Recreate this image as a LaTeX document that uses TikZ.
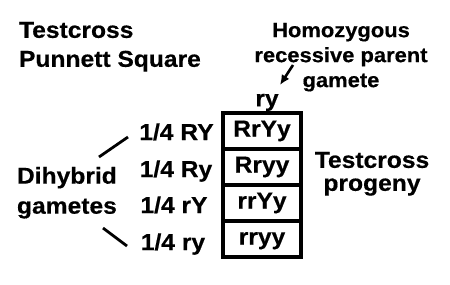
\documentclass[tikz,border=0pt]{standalone}
\usepackage{fontspec}
\setmainfont{Liberation Sans}[FakeStretch=1.07, BoldFeatures={FakeBold=0.5}]
\usetikzlibrary{positioning, arrows.meta}

\begin{document}
\begin{tikzpicture}[x=1pt, y=-1pt,
  every node/.style={inner sep=0pt, outer sep=0pt,
    font=\bfseries\fontsize{23}{29}\selectfont},
  ttl/.style={align=left, anchor=north west},
  ann/.style={align=center, anchor=north},
  gam/.style={anchor=base},
  cell/.style={draw, line width=3.2pt, minimum width=78pt, minimum height=36pt,
    text height=16pt, text depth=5pt},
  link/.style={line width=2.8pt},
  arrow/.style={-{Latex[length=10pt, width=9pt]}, line width=2.6pt}]
\useasboundingbox (0,0) rectangle (450,284);
\node[ttl] (title) at (19,22) {Testcross\\Punnett Square};
\node[ann, font=\bfseries\fontsize{20.5}{25}\selectfont] (homo) at (341,23)
  {Homozygous\\recessive parent\\gamete};
% punnett column
\node[cell] (c1) at (262,131) {RrYy};
\node[cell, below=0pt of c1] (c2) {Rryy};
\node[cell, below=0pt of c2] (c3) {rrYy};
\node[cell, below=0pt of c3] (c4) {rryy};
\node[gam, anchor=south, above=2pt of c1, xshift=5pt] (hdr) {ry};
% gametes
\node[gam] (g1) at (176.5,140) {1/4 RY};
\node[gam] (g2) at (176,177) {1/4 Ry};
\node[gam] (g3) at (174,213) {1/4 rY};
\node[gam] (g4) at (173,250) {1/4 ry};
\node[ttl, font=\bfseries\fontsize{23}{30}\selectfont] (dih) at (17,167)
  {Dihybrid\\gametes};
\node[ann, font=\bfseries\fontsize{23}{23}\selectfont] (prog) at (372,152)
  {Testcross\\progeny};
\coordinate (t1) at (99,157);
\coordinate (h1) at (128,137);
\coordinate (t4) at (103,228);
\coordinate (h4) at (127,246);
\draw[link] (t1) -- (h1);
\draw[link] (t4) -- (h4);
\coordinate (tail) at (293,65);
\coordinate (tip) at (280,85);
\draw[arrow] (tail) -- (tip);
\end{tikzpicture}
\end{document}
